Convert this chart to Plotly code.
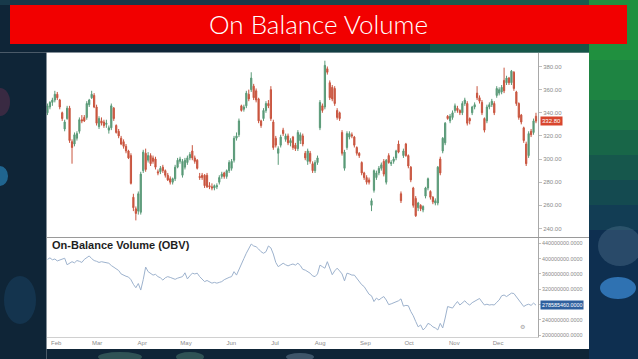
import pandas as pd
import plotly.graph_objects as go

W, H = 638, 359

# ---------------- data ----------------
opens = [
    340, 345, 349, 351, 356, 351, 340, 326, 335, 344,
    315, 313, 318, 324, 334, 336, 336, 347, 353, 355,
    345, 328, 333, 332, 330, 325, 327, 344, 329, 324,
    318, 315, 311, 307, 303, 267, 257, 255, 254, 290,
    305, 299, 303, 301, 300, 289, 289, 293, 290, 286,
    283, 280, 283, 293, 298, 286, 293, 297, 301, 307, 301,
    299, 285, 286, 286, 286, 277, 276, 275, 276, 280,
    285, 288, 285, 290, 292, 299, 318, 321, 346, 343,
    346, 356, 360, 363, 359, 352, 333, 335, 342, 348,
    360, 332, 318, 305, 312, 325, 317, 320, 314, 319, 312,
    309, 316, 320, 305, 298, 305, 296, 290, 297, 327,
    346, 345, 378, 366, 362, 361, 342, 340, 323, 292,
    310, 319, 321, 319, 310, 305, 297, 288, 284, 282, 260,
    273, 284, 288, 292, 298, 280, 303, 296, 298, 301,
    313, 270, 303, 313, 303, 293, 275, 266, 258, 260,
    256, 268, 275, 272, 267, 262, 262, 300, 307, 314,
    337, 333, 336, 342, 344, 342, 340, 348, 348, 335,
    340, 345, 357, 353, 349, 335, 333, 345, 347, 348,
    355, 357, 358, 368, 366, 370, 366, 375, 358,
    348, 338, 327, 313, 303, 324, 323, 337,
]
highs = [
    348, 350, 353, 359, 358, 352, 341, 334, 346, 346,
    317, 323, 324, 336, 338, 338, 350, 352, 359, 357,
    347, 337, 336, 334, 334, 329, 348, 345, 330, 326,
    320, 317, 313, 308, 305, 270, 259, 272, 289, 308,
    309, 306, 305, 303, 302, 291, 294, 295, 291, 288,
    285, 284, 295, 301, 302, 300, 301, 303, 306, 312, 303,
    300, 288, 288, 287, 288, 280, 279, 278, 279, 286,
    289, 289, 291, 299, 300, 320, 323, 335, 347, 347,
    359, 360, 375, 365, 361, 353, 334, 344, 350, 351,
    363, 334, 320, 311, 321, 327, 322, 322, 318, 320, 314,
    325, 323, 322, 307, 309, 307, 298, 299, 303, 351,
    348, 385, 380, 368, 364, 363, 344, 341, 325, 308,
    324, 324, 323, 320, 311, 306, 298, 289, 286, 284, 266,
    291, 290, 294, 297, 300, 300, 305, 299, 302, 308,
    316, 272, 309, 314, 304, 294, 276, 268, 263, 261,
    260, 276, 284, 273, 268, 266, 294, 302, 319, 332,
    338, 339, 342, 348, 346, 343, 350, 353, 350, 336,
    346, 349, 363, 355, 351, 336, 347, 349, 352, 350,
    363, 362, 364, 379, 372, 371, 377, 376, 359,
    349, 339, 328, 315, 324, 326, 335, 340,
]
lows = [
    338, 343, 346, 349, 351, 343, 333, 324, 334, 314,
    296, 311, 316, 322, 331, 332, 334, 345, 352, 344,
    329, 326, 329, 327, 327, 322, 325, 333, 322, 318,
    312, 309, 305, 300, 278, 255, 247, 252, 252, 288,
    289, 297, 294, 296, 291, 286, 287, 288, 284, 281,
    278, 278, 281, 292, 296, 284, 291, 295, 299, 299, 296,
    291, 282, 282, 275, 275, 274, 273, 273, 274, 278,
    283, 283, 283, 288, 290, 297, 316, 319, 341, 341,
    344, 350, 358, 351, 349, 331, 327, 333, 340, 344,
    333, 308, 310, 295, 310, 320, 315, 312, 311, 308, 307,
    307, 313, 311, 299, 295, 296, 288, 288, 295, 325,
    340, 343, 373, 351, 350, 346, 334, 333, 303, 290,
    308, 317, 318, 310, 303, 301, 286, 282, 278, 278, 255,
    271, 282, 286, 290, 285, 278, 296, 294, 296, 299,
    305, 262, 301, 302, 292, 280, 258, 250, 255, 255,
    254, 266, 273, 265, 261, 260, 260, 286, 305, 312,
    334, 331, 334, 340, 340, 338, 338, 346, 329, 330,
    338, 343, 351, 348, 338, 323, 331, 343, 345, 338,
    353, 355, 356, 357, 364, 364, 364, 359, 346,
    334, 330, 314, 294, 301, 319, 321, 331,
]
closes = [
    346, 349, 351, 356, 353, 345, 335, 332, 344, 316,
    310, 321, 322, 334, 333, 333, 348, 351, 356, 345,
    331, 335, 331, 329, 331, 327, 346, 335, 323, 320,
    313, 311, 307, 301, 279, 258, 253, 270, 287, 306,
    291, 303, 296, 298, 293, 288, 292, 290, 286, 282,
    280, 283, 293, 299, 300, 298, 299, 301, 304, 301, 298,
    292, 284, 284, 277, 276, 276, 275, 277, 277, 284,
    287, 285, 290, 297, 298, 318, 320, 333, 342, 345,
    357, 352, 370, 353, 351, 333, 329, 342, 348, 346,
    335, 310, 312, 309, 319, 322, 320, 314, 316, 310, 309,
    323, 321, 313, 301, 307, 298, 290, 297, 301, 349,
    342, 381, 375, 353, 352, 348, 336, 335, 305, 306,
    322, 322, 320, 312, 305, 303, 288, 284, 280, 280, 264,
    290, 288, 292, 295, 287, 299, 297, 297, 300, 307,
    306, 264, 307, 303, 294, 282, 260, 251, 262, 257,
    259, 275, 283, 267, 263, 264, 293, 288, 318, 331,
    335, 337, 340, 346, 342, 340, 348, 351, 331, 333,
    345, 347, 353, 350, 340, 325, 345, 347, 350, 340,
    361, 360, 362, 359, 370, 366, 376, 361, 348,
    336, 332, 316, 296, 322, 321, 333, 332.8,
]
obv_millions = [
    398, 402, 397, 399, 394, 396, 399, 401, 384, 388,
    392, 389, 395, 393, 390, 398, 403, 407, 400, 395,
    393, 390, 392, 391, 389, 388, 382, 377, 373, 369,
    360, 356, 354, 352, 345, 333, 324, 335, 318, 345,
    378, 366, 362, 357, 359, 353, 350, 344, 350, 353,
    351, 349, 346, 349, 351, 353, 363, 347, 355, 362,
    360, 362, 353, 347, 340, 343, 340, 336, 338, 336,
    338, 340, 345, 349, 351, 353, 366, 357, 370, 383,
    400, 414, 427, 438, 433, 431, 425, 418, 414, 418,
    433, 428, 412, 390, 379, 384, 388, 384, 381, 384, 386,
    383, 388, 382, 372, 370, 366, 362, 355, 353, 360,
    383, 379, 375, 392, 372, 358, 368, 375, 368, 360,
    342, 362, 360, 357, 357, 348, 338, 332, 327, 318,
    307, 303, 288, 297, 292, 297, 301, 292, 280, 282,
    284, 287, 290, 295, 276, 278, 277, 262, 251, 236,
    222, 227, 214, 220, 231, 228, 222, 219, 214, 231,
    219, 245, 275, 273, 271, 280, 288, 279, 284, 290,
    283, 279, 285, 288, 293, 296, 287, 279, 281, 279,
    280, 279, 286, 292, 303, 305, 301, 306, 310, 309,
    300, 292, 282, 275, 279, 281, 278, 284, 278.58546,
]
start_date, end_date = "2018-01-26", "2018-12-27"
month_ticks = ["2018-02-01", "2018-03-01", "2018-04-01", "2018-05-01", "2018-06-01",
               "2018-07-01", "2018-08-01", "2018-09-01", "2018-10-01", "2018-11-01",
               "2018-12-01"]
month_labels = ["Feb", "Mar", "Apr", "May", "Jun", "Jul", "Aug", "Sep", "Oct", "Nov", "Dec"]
price_ticks = [240, 260, 280, 300, 320, 340, 360, 380]
obv_ticks_millions = [200, 240, 280, 320, 360, 400, 440]
title_text = "On Balance Volume"
panel_title = "On-Balance Volume (OBV)"

n = len(closes)
assert len(opens) == n and len(highs) == n and len(lows) == n and len(obv_millions) == n, \
    (len(opens), len(highs), len(lows), len(closes), len(obv_millions))

dates = pd.date_range(start_date, end_date, periods=n)
obv = [v * 1e6 for v in obv_millions]
obv_ticks = [v * 1e6 for v in obv_ticks_millions]


def fx(px):
    return px / W


def fy(py):
    return 1 - py / H


GREEN = "#5a9a78"
RED = "#c9553f"
FAM = "Liberation Sans, Arial, sans-serif"
AXIS_FONT = dict(family=FAM, size=6, color="#8a8a8a")
OBV_FONT = dict(family=FAM, size=5.4, color="#8a8a8a")
BG = "#0f2537"

fig = go.Figure()
fig.add_trace(go.Candlestick(
    x=dates, open=opens, high=highs, low=lows, close=closes,
    xaxis="x", yaxis="y",
    increasing=dict(line=dict(color=GREEN, width=1), fillcolor=GREEN),
    decreasing=dict(line=dict(color=RED, width=1), fillcolor=RED),
    whiskerwidth=0, showlegend=False, hoverinfo="skip",
))
fig.add_trace(go.Scatter(
    x=dates, y=obv, mode="lines", xaxis="x2", yaxis="y2",
    line=dict(color="#9db2cd", width=1), showlegend=False, hoverinfo="skip",
))

xr = ["2018-01-25 08:00", "2018-12-28 09:00"]
dom_x = [fx(46.5), fx(538)]


def rect(x0, x1, y0, y1, color, opacity=1.0):
    return dict(type="rect", xref="paper", yref="paper", x0=fx(x0), x1=fx(x1),
                y0=fy(y1), y1=fy(y0), fillcolor=color, opacity=opacity,
                line=dict(width=0), layer="above")


def blob(cx, cy, rx, ry, color, opacity):
    return dict(type="circle", xref="paper", yref="paper", x0=fx(cx - rx), x1=fx(cx + rx),
                y0=fy(cy + ry), y1=fy(cy - ry), fillcolor=color, opacity=opacity,
                line=dict(width=0), layer="above")


# right-hand slide strip: green at top fading to dark blue
right_strip = [
    (0, 60, "#20903f"), (60, 100, "#1e8442"), (100, 130, "#1b7545"),
    (130, 155, "#186648"), (155, 180, "#16574c"), (180, 205, "#144a50"),
    (205, 230, "#123d54"), (230, 359, "#0e2f50"),
]

shapes = [
    # slide frame around the white chart panel
    rect(0, 638, 0, 52.5, BG),
    rect(0, 46.5, 52.5, 359, BG),
    rect(589, 638, 0, 359, BG),
    rect(46.5, 589, 349, 359, BG),
    # soft background lights
    rect(0, 638, 0, 5, "#17394a"),
    rect(300, 638, 0, 52.5, "#175a52", 0.45),
    rect(430, 638, 0, 52.5, "#1a7050", 0.5),
] + [rect(589, 638, a, b, c) for a, b, c in right_strip] + [
    blob(620, 246, 22, 20, "#5b7f98", 0.35),
    blob(618, 288, 18, 11, "#3d8fdc", 0.7),
    blob(0, 102, 10, 14, "#8a3558", 0.35),
    blob(0, 176, 8, 10, "#2f9ad8", 0.55),
    blob(20, 300, 16, 24, "#1a466a", 0.45),
    blob(120, 357, 22, 5, "#8fdcae", 0.25),
    blob(190, 357, 14, 5, "#8fdcae", 0.25),
    blob(300, 357, 14, 4, "#c8e6ff", 0.25),
    # red title bar
    rect(10, 627, 5, 44, "#f20000"),
    # divider between panes
    dict(type="line", xref="paper", yref="paper", x0=fx(46.5), x1=fx(589),
         y0=fy(237.5), y1=fy(237.5), line=dict(color="#9a9a9a", width=1), layer="above"),
]

annotations = [
    dict(text=title_text, x=fx(318.5), y=fy(24.5), xref="paper", yref="paper",
         showarrow=False, xanchor="center", yanchor="middle",
         font=dict(family="Lato, Open Sans, sans-serif", size=26, color="white", weight=300)),
    dict(text=panel_title, x=fx(50), y=fy(244.5), xref="paper", yref="paper",
         showarrow=False, xanchor="left", yanchor="middle",
         font=dict(family=FAM, size=11, color="#1e1e1e", weight="bold")),
    dict(text=f"{closes[-1]:.2f}", x=fx(539.5), y=closes[-1], xref="paper", yref="y",
         showarrow=False, xanchor="left", yanchor="middle", bgcolor="#d8462e", borderpad=1,
         font=dict(family=FAM, size=6, color="white")),
    dict(text=f"{obv[-1]:.4f}", x=fx(539.5), y=obv[-1], xref="paper", yref="y2",
         showarrow=False, xanchor="left", yanchor="middle", bgcolor="#2f609e", borderpad=1,
         font=dict(family=FAM, size=5.4, color="white")),
    dict(text="⚙", x=fx(527), y=fy(332), xref="paper", yref="paper", showarrow=False,
         font=dict(family="DejaVu Sans", size=6, color="#a0a0a0")),
]

fig.update_layout(
    width=W, height=H,
    margin=dict(l=0, r=0, t=0, b=0, pad=0),
    paper_bgcolor="white",
    plot_bgcolor="white",
    showlegend=False,
    shapes=shapes,
    annotations=annotations,
    xaxis=dict(domain=dom_x, anchor="y", type="date", range=xr, showticklabels=False,
               showgrid=False, zeroline=False, showline=False, rangeslider=dict(visible=False),
               fixedrange=True),
    yaxis=dict(domain=[fy(237.5), fy(52.5)], anchor="x", side="right", range=[232.2, 392.1],
               tickvals=price_ticks, tickformat=".2f", showgrid=False, zeroline=False,
               showline=True, linecolor="#a8a8a8", linewidth=1, ticks="outside", ticklen=3,
               tickcolor="#c0c0c0", tickfont=AXIS_FONT, fixedrange=True),
    xaxis2=dict(domain=dom_x, anchor="y2", type="date", range=xr, tickvals=month_ticks,
                ticktext=month_labels, showgrid=False, zeroline=False, showline=True,
                linecolor="#d0d0d0", linewidth=1, ticks="", tickfont=AXIS_FONT, fixedrange=True),
    yaxis2=dict(domain=[fy(337), fy(238)], anchor="x2", side="right", range=[195.5e6, 453.8e6],
                tickvals=obv_ticks, tickformat=".4f", showgrid=False, zeroline=False,
                showline=True, linecolor="#a8a8a8", linewidth=1, ticks="outside", ticklen=2,
                tickcolor="#c0c0c0", tickfont=OBV_FONT, fixedrange=True),
)

fig.write_html("out.html", config=dict(displayModeBar=False, staticPlot=True),
               post_script="document.body.style.margin='0';document.body.style.overflow='hidden';")
